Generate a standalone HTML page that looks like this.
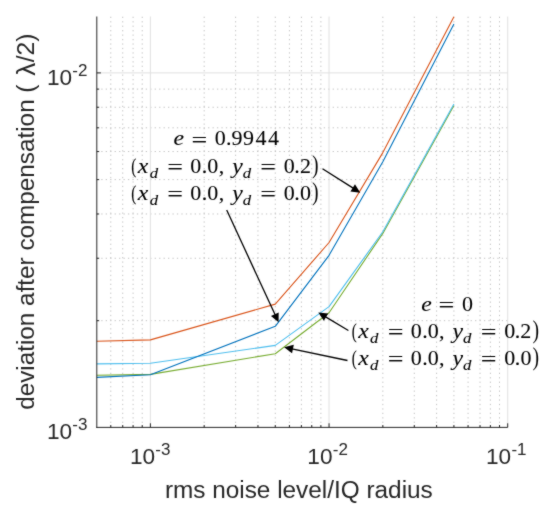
<!DOCTYPE html><html><head><meta charset="utf-8"><style>html,body{margin:0;padding:0;background:#fff;width:550px;height:513px;overflow:hidden}svg{display:block}</style></head><body>
<svg width="550" height="513" viewBox="0 0 550 513">
<defs><filter id="bl" x="0" y="0" width="550" height="513" filterUnits="userSpaceOnUse" color-interpolation-filters="sRGB"><feConvolveMatrix order="3" kernelMatrix="1 2 1 2 20 2 1 2 1" edgeMode="duplicate" preserveAlpha="true"/></filter></defs>
<g filter="url(#bl)">
<rect width="550" height="513" fill="#fff"/>
<g stroke="#c2c2c2" stroke-width="1" stroke-dasharray="1.3 3.15" fill="none">
<line x1="110.77" y1="427.40" x2="110.77" y2="16.50"/>
<line x1="122.73" y1="427.40" x2="122.73" y2="16.50"/>
<line x1="133.09" y1="427.40" x2="133.09" y2="16.50"/>
<line x1="142.23" y1="427.40" x2="142.23" y2="16.50"/>
<line x1="204.18" y1="427.40" x2="204.18" y2="16.50"/>
<line x1="235.64" y1="427.40" x2="235.64" y2="16.50"/>
<line x1="257.96" y1="427.40" x2="257.96" y2="16.50"/>
<line x1="275.27" y1="427.40" x2="275.27" y2="16.50"/>
<line x1="289.42" y1="427.40" x2="289.42" y2="16.50"/>
<line x1="301.38" y1="427.40" x2="301.38" y2="16.50"/>
<line x1="311.74" y1="427.40" x2="311.74" y2="16.50"/>
<line x1="320.88" y1="427.40" x2="320.88" y2="16.50"/>
<line x1="382.83" y1="427.40" x2="382.83" y2="16.50"/>
<line x1="414.29" y1="427.40" x2="414.29" y2="16.50"/>
<line x1="436.61" y1="427.40" x2="436.61" y2="16.50"/>
<line x1="453.92" y1="427.40" x2="453.92" y2="16.50"/>
<line x1="468.07" y1="427.40" x2="468.07" y2="16.50"/>
<line x1="480.03" y1="427.40" x2="480.03" y2="16.50"/>
<line x1="490.39" y1="427.40" x2="490.39" y2="16.50"/>
<line x1="499.53" y1="427.40" x2="499.53" y2="16.50"/>
<line x1="96.80" y1="320.68" x2="507.70" y2="320.68"/>
<line x1="96.80" y1="258.26" x2="507.70" y2="258.26"/>
<line x1="96.80" y1="213.97" x2="507.70" y2="213.97"/>
<line x1="96.80" y1="179.62" x2="507.70" y2="179.62"/>
<line x1="96.80" y1="151.55" x2="507.70" y2="151.55"/>
<line x1="96.80" y1="127.81" x2="507.70" y2="127.81"/>
<line x1="96.80" y1="107.25" x2="507.70" y2="107.25"/>
<line x1="96.80" y1="89.12" x2="507.70" y2="89.12"/>
</g>
<g stroke="#e0e0e0" stroke-width="1" fill="none">
<line x1="150.40" y1="427.40" x2="150.40" y2="16.50"/>
<line x1="329.05" y1="427.40" x2="329.05" y2="16.50"/>
<line x1="507.70" y1="427.40" x2="507.70" y2="16.50"/>
<line x1="96.80" y1="72.90" x2="507.70" y2="72.90"/>
</g>
<g fill="none" stroke-width="1.10" stroke-linejoin="round" stroke-linecap="butt">
<polyline stroke="#77AC30" points="96.80,375.30 150.40,374.40 275.27,353.70 329.05,312.80 382.83,233.40 453.92,105.60"/>
<polyline stroke="#4DBEEE" points="96.80,363.90 150.40,363.20 275.27,345.40 329.05,306.60 382.83,231.80 453.92,104.00"/>
<polyline stroke="#0072BD" points="96.80,377.40 150.40,374.80 275.27,326.30 329.05,255.30 382.83,161.70 453.92,24.10"/>
<polyline stroke="#D95319" points="96.80,341.20 150.40,339.90 275.27,304.10 329.05,242.50 382.83,152.60 453.92,16.70"/>
</g>
<g stroke="#262626" stroke-width="1" fill="none">
<line x1="96.80" y1="16.50" x2="96.80" y2="427.90"/>
<line x1="96.30" y1="427.40" x2="507.70" y2="427.40"/>
<line x1="150.40" y1="427.40" x2="150.40" y2="423.30"/>
<line x1="329.05" y1="427.40" x2="329.05" y2="423.30"/>
<line x1="507.70" y1="427.40" x2="507.70" y2="423.30"/>
<line x1="110.77" y1="427.40" x2="110.77" y2="425.00"/>
<line x1="122.73" y1="427.40" x2="122.73" y2="425.00"/>
<line x1="133.09" y1="427.40" x2="133.09" y2="425.00"/>
<line x1="142.23" y1="427.40" x2="142.23" y2="425.00"/>
<line x1="204.18" y1="427.40" x2="204.18" y2="425.00"/>
<line x1="235.64" y1="427.40" x2="235.64" y2="425.00"/>
<line x1="257.96" y1="427.40" x2="257.96" y2="425.00"/>
<line x1="275.27" y1="427.40" x2="275.27" y2="425.00"/>
<line x1="289.42" y1="427.40" x2="289.42" y2="425.00"/>
<line x1="301.38" y1="427.40" x2="301.38" y2="425.00"/>
<line x1="311.74" y1="427.40" x2="311.74" y2="425.00"/>
<line x1="320.88" y1="427.40" x2="320.88" y2="425.00"/>
<line x1="382.83" y1="427.40" x2="382.83" y2="425.00"/>
<line x1="414.29" y1="427.40" x2="414.29" y2="425.00"/>
<line x1="436.61" y1="427.40" x2="436.61" y2="425.00"/>
<line x1="453.92" y1="427.40" x2="453.92" y2="425.00"/>
<line x1="468.07" y1="427.40" x2="468.07" y2="425.00"/>
<line x1="480.03" y1="427.40" x2="480.03" y2="425.00"/>
<line x1="490.39" y1="427.40" x2="490.39" y2="425.00"/>
<line x1="499.53" y1="427.40" x2="499.53" y2="425.00"/>
<line x1="96.80" y1="72.90" x2="100.90" y2="72.90"/>
<line x1="96.80" y1="320.68" x2="99.20" y2="320.68"/>
<line x1="96.80" y1="258.26" x2="99.20" y2="258.26"/>
<line x1="96.80" y1="213.97" x2="99.20" y2="213.97"/>
<line x1="96.80" y1="179.62" x2="99.20" y2="179.62"/>
<line x1="96.80" y1="151.55" x2="99.20" y2="151.55"/>
<line x1="96.80" y1="127.81" x2="99.20" y2="127.81"/>
<line x1="96.80" y1="107.25" x2="99.20" y2="107.25"/>
<line x1="96.80" y1="89.12" x2="99.20" y2="89.12"/>
</g>
<g fill="#262626" font-family="'Liberation Sans', Arial, Helvetica, sans-serif">
<text x="46.88" y="84.50" font-size="22.60">10</text><text x="72.34" y="75.50" font-size="17.00">-2</text>
<text x="46.88" y="439.00" font-size="22.60">10</text><text x="72.34" y="430.00" font-size="17.00">-3</text>
<text x="129.88" y="464.00" font-size="22.60">10</text><text x="155.34" y="455.30" font-size="17.00">-3</text>
<text x="307.33" y="464.00" font-size="22.60">10</text><text x="332.79" y="455.30" font-size="17.00">-2</text>
<text x="485.98" y="464.00" font-size="22.60">10</text><text x="511.44" y="455.30" font-size="17.00">-1</text>
<text x="164.88" y="498.10" font-size="24.35">rms noise level/IQ radius</text>
<text transform="translate(34.20,409.82) rotate(-90)" font-size="24.29">deviation after compensation</text>
<text transform="translate(34.20,92.67) rotate(-90)" font-size="24.55">(</text>
<text transform="translate(35.20,75.73) rotate(-90)" font-size="26.00">λ</text>
<text transform="translate(34.20,62.30) rotate(-90)" font-size="24.55">/2)</text>
</g>
<g fill="#000" stroke="#000" stroke-width="0.08" font-family="'Liberation Serif', 'Times New Roman', serif">
<text transform="translate(173.47,145.30) scale(1.080,1.000)" font-size="22.00" font-style="italic">e</text>
<text transform="translate(191.46,146.50) scale(1.270,1.000)" font-size="22.00"> = </text>
<text x="214.66" y="145.30" font-size="22.00">0</text>
<text x="225.95" y="145.30" font-size="22.00">.</text>
<text x="231.49" y="145.30" font-size="22.00">9</text>
<text x="242.99" y="145.30" font-size="22.00">9</text>
<text x="255.57" y="145.30" font-size="22.00">4</text>
<text x="267.97" y="145.30" font-size="22.00">4</text>
<text transform="translate(131.34,173.10) scale(0.680,1.000)" font-size="22.00">(</text><text transform="translate(137.79,173.10) scale(1.080,1.000)" font-size="22.00" font-style="italic">x</text><text transform="translate(149.69,178.30) scale(1.120,1.000)" font-size="15.00" font-style="italic">d</text><text transform="translate(167.26,174.30) scale(1.270,1.000)" font-size="22.00"> = </text><text x="190.26" y="173.10" font-size="22.00">0</text><text x="201.85" y="173.10" font-size="22.00">.</text><text x="207.36" y="173.10" font-size="22.00">0</text><text x="218.66" y="173.10" font-size="22.00">, </text><text transform="translate(232.18,173.10) scale(1.080,1.000)" font-size="22.00" font-style="italic">y</text><text transform="translate(242.69,178.30) scale(1.120,1.000)" font-size="15.00" font-style="italic">d</text><text transform="translate(260.26,174.30) scale(1.270,1.000)" font-size="22.00"> = </text><text x="283.76" y="173.10" font-size="22.00">0</text><text x="294.25" y="173.10" font-size="22.00">.</text><text x="299.93" y="173.10" font-size="22.00">2</text><text transform="translate(312.30,173.10) scale(0.850,1.100)" font-size="22.00">)</text>
<text transform="translate(131.34,200.00) scale(0.680,1.000)" font-size="22.00">(</text><text transform="translate(137.79,200.00) scale(1.080,1.000)" font-size="22.00" font-style="italic">x</text><text transform="translate(149.69,205.20) scale(1.120,1.000)" font-size="15.00" font-style="italic">d</text><text transform="translate(167.26,201.20) scale(1.270,1.000)" font-size="22.00"> = </text><text x="190.26" y="200.00" font-size="22.00">0</text><text x="201.85" y="200.00" font-size="22.00">.</text><text x="207.36" y="200.00" font-size="22.00">0</text><text x="218.66" y="200.00" font-size="22.00">, </text><text transform="translate(232.18,200.00) scale(1.080,1.000)" font-size="22.00" font-style="italic">y</text><text transform="translate(242.69,205.20) scale(1.120,1.000)" font-size="15.00" font-style="italic">d</text><text transform="translate(260.26,201.20) scale(1.270,1.000)" font-size="22.00"> = </text><text x="283.76" y="200.00" font-size="22.00">0</text><text x="294.25" y="200.00" font-size="22.00">.</text><text x="300.06" y="200.00" font-size="22.00">0</text><text transform="translate(312.30,200.00) scale(0.850,1.100)" font-size="22.00">)</text>
<text transform="translate(421.27,310.50) scale(1.080,1.000)" font-size="22.00" font-style="italic">e</text>
<text transform="translate(438.46,311.70) scale(1.270,1.000)" font-size="22.00"> = </text>
<text x="461.96" y="310.50" font-size="22.00">0</text>
<text transform="translate(351.74,338.00) scale(0.680,1.000)" font-size="22.00">(</text><text transform="translate(358.19,338.00) scale(1.080,1.000)" font-size="22.00" font-style="italic">x</text><text transform="translate(370.09,343.20) scale(1.120,1.000)" font-size="15.00" font-style="italic">d</text><text transform="translate(387.66,339.20) scale(1.270,1.000)" font-size="22.00"> = </text><text x="410.66" y="338.00" font-size="22.00">0</text><text x="422.25" y="338.00" font-size="22.00">.</text><text x="427.76" y="338.00" font-size="22.00">0</text><text x="439.06" y="338.00" font-size="22.00">, </text><text transform="translate(452.58,338.00) scale(1.080,1.000)" font-size="22.00" font-style="italic">y</text><text transform="translate(463.09,343.20) scale(1.120,1.000)" font-size="15.00" font-style="italic">d</text><text transform="translate(480.66,339.20) scale(1.270,1.000)" font-size="22.00"> = </text><text x="504.16" y="338.00" font-size="22.00">0</text><text x="514.65" y="338.00" font-size="22.00">.</text><text x="520.33" y="338.00" font-size="22.00">2</text><text transform="translate(532.70,338.00) scale(0.850,1.100)" font-size="22.00">)</text>
<text transform="translate(351.74,365.20) scale(0.680,1.000)" font-size="22.00">(</text><text transform="translate(358.19,365.20) scale(1.080,1.000)" font-size="22.00" font-style="italic">x</text><text transform="translate(370.09,370.40) scale(1.120,1.000)" font-size="15.00" font-style="italic">d</text><text transform="translate(387.66,366.40) scale(1.270,1.000)" font-size="22.00"> = </text><text x="410.66" y="365.20" font-size="22.00">0</text><text x="422.25" y="365.20" font-size="22.00">.</text><text x="427.76" y="365.20" font-size="22.00">0</text><text x="439.06" y="365.20" font-size="22.00">, </text><text transform="translate(452.58,365.20) scale(1.080,1.000)" font-size="22.00" font-style="italic">y</text><text transform="translate(463.09,370.40) scale(1.120,1.000)" font-size="15.00" font-style="italic">d</text><text transform="translate(480.66,366.40) scale(1.270,1.000)" font-size="22.00"> = </text><text x="504.16" y="365.20" font-size="22.00">0</text><text x="514.65" y="365.20" font-size="22.00">.</text><text x="520.46" y="365.20" font-size="22.00">0</text><text transform="translate(532.70,365.20) scale(0.850,1.100)" font-size="22.00">)</text>
</g>
<line x1="322.50" y1="168.70" x2="353.54" y2="188.39" stroke="#000" stroke-width="1.30"/><polygon fill="#000" points="360.29,192.67 350.41,191.44 354.97,184.26"/>
<line x1="226.70" y1="210.00" x2="275.24" y2="315.07" stroke="#000" stroke-width="1.30"/><polygon fill="#000" points="278.59,322.34 270.96,315.95 278.68,312.38"/>
<line x1="348.40" y1="330.50" x2="325.17" y2="316.64" stroke="#000" stroke-width="1.30"/><polygon fill="#000" points="318.30,312.54 328.21,313.50 323.85,320.80"/>
<line x1="347.50" y1="360.50" x2="291.94" y2="348.80" stroke="#000" stroke-width="1.30"/><polygon fill="#000" points="284.12,347.16 293.80,344.85 292.05,353.17"/>
</g>
</svg></body></html>
